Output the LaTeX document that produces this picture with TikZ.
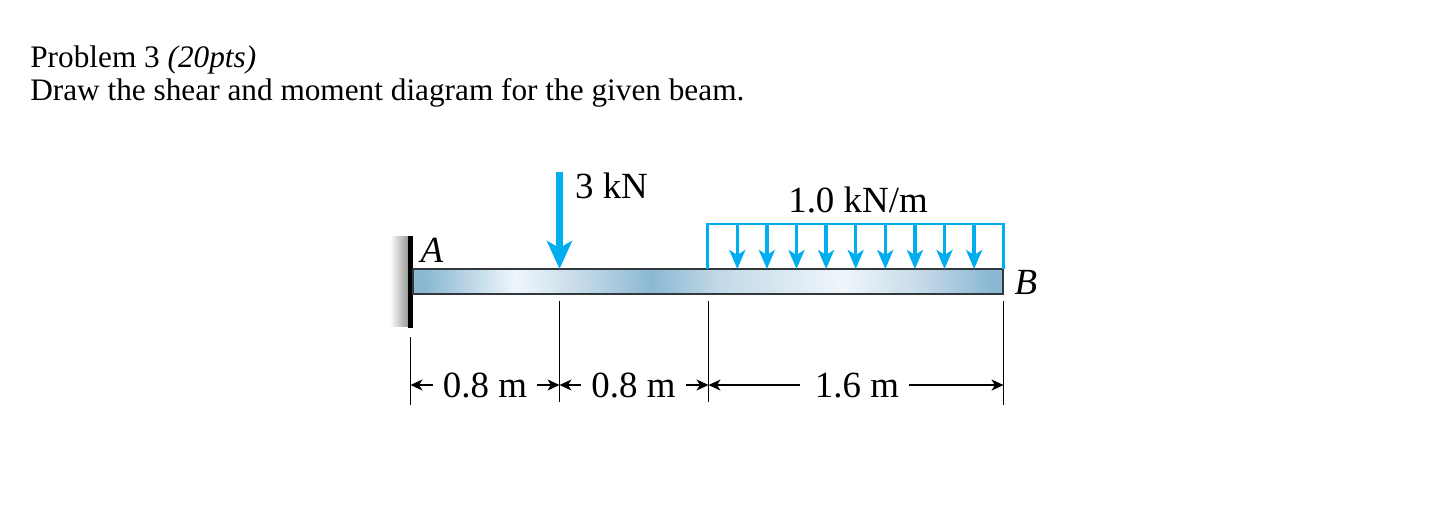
\documentclass[tikz,border=0pt]{standalone}
\usepackage{xcolor}
\usepackage{fontspec}
\setmainfont{Liberation Serif}
\usetikzlibrary{arrows.meta}
\definecolor{loadblue}{HTML}{00AEEF}
\definecolor{beamedge}{HTML}{33383C}
\definecolor{beammid}{HTML}{8AB8D3}
\definecolor{beampale}{HTML}{EFF6FB}
\definecolor{beamsoft}{HTML}{C3D9E7}
\pgfdeclarehorizontalshading{beamshade}{100bp}{color(0bp)=(beammid); color(25bp)=(beammid); color(33bp)=(beampale); color(39bp)=(beamsoft); color(45bp)=(beammid); color(51bp)=(beamsoft); color(62bp)=(beampale); color(69bp)=(beamsoft); color(75bp)=(beammid); color(100bp)=(beammid)}
\tikzset{
	bigtext/.style={anchor=base,inner sep=0pt,font=\fontsize{21}{25}\selectfont},
	titletext/.style={anchor=base west,inner sep=0pt,font=\fontsize{17.8}{21}\selectfont},
	beamstyle/.style={draw=beamedge,line width=0.5mm,minimum width=118mm,minimum height=5mm,inner sep=0pt,outer sep=0pt,shading=beamshade,shading angle=2.4},
	bigload/.style={draw=loadblue,line width=1.3mm,-{Stealth[length=5.6mm,width=5mm,inset=1.4mm]}},
	smallload/.style={draw=loadblue,line width=0.7mm,-{Stealth[length=3.8mm,width=3.2mm,inset=1mm]}},
	dimtick/.style={draw=black,line width=0.3mm},
	dimarrow/.style={draw=black,line width=0.3mm,-{Stealth[length=2.4mm,width=2.2mm,inset=0.7mm]}}
}

\begin{document}
\begin{tikzpicture}[x=0.2mm,y=-0.2mm]
	\useasboundingbox (0,0) rectangle (1440,520);
	\node[titletext] at (30,67) (problem) {Problem 3 \textit{(20pts)}};
	\node[titletext] at (30,100) (question) {Draw the shear and moment diagram for the given beam.};
%wall
	\shade [left color=white,right color=black!40] (390,236) rectangle (408,326);
	\fill [black] (408,236) rectangle (413,328);
%beam
	\node[beamstyle] at (708,281.5) (beam) {};
	\node[bigtext] at (432,262) (A) {\textit{A}};
	\node[bigtext] at (1026,294) (B) {\textit{B}};
%loads
	\coordinate (bigtop) at (559.5,172);
	\coordinate (bigtip) at (559.5,269);
	\draw [bigload] (bigtop) -- (bigtip);
	\node[bigtext] at (611.5,198) (pointload) {3 kN};
	\coordinate (udltop) at (707.7,224);
	\coordinate (udlbot) at (707.7,269);
	\coordinate (udlend) at (1003.5,269);
	\draw [loadblue,line width=0.5mm] (udlbot) |- (udlend |- udltop) -- (udlend);
	\foreach \i in {1,...,9} {
		\draw [smallload] ([xshift=\i*5.92mm]udltop) -- ([xshift=\i*5.92mm]udlbot);
	}
	\node[bigtext] at (858,212) (udl) {1.0 kN/m};
%dimensions
	\coordinate (tickA) at (410.5,337);
	\coordinate (tickAb) at (410.5,405);
	\coordinate (tickC) at (559.5,301);
	\coordinate (tickCb) at (559.5,402);
	\coordinate (tickD) at (708.5,301);
	\coordinate (tickDb) at (708.5,402);
	\coordinate (tickB) at (1003.5,301);
	\coordinate (tickBb) at (1003.5,405);
	\draw [dimtick] (tickA) -- (tickAb);
	\draw [dimtick] (tickC) -- (tickCb);
	\draw [dimtick] (tickD) -- (tickDb);
	\draw [dimtick] (tickB) -- (tickBb);
	\node[bigtext] at (485,397) (first) {0.8 m};
	\node[bigtext] at (633.5,397) (second) {0.8 m};
	\node[bigtext] at (857,397) (third) {1.6 m};
	\draw [dimarrow] ([xshift=-2mm]first.west) -- (tickA |- first.west);
	\draw [dimarrow] ([xshift=2mm]first.east) -- (tickC |- first.east);
	\draw [dimarrow] ([xshift=-2mm]second.west) -- (tickC |- second.west);
	\draw [dimarrow] ([xshift=2mm]second.east) -- (tickD |- second.east);
	\draw [dimarrow] ([xshift=-3mm]third.west) -- (tickD |- third.west);
	\draw [dimarrow] ([xshift=2mm]third.east) -- (tickB |- third.east);
\end{tikzpicture}
\end{document}
